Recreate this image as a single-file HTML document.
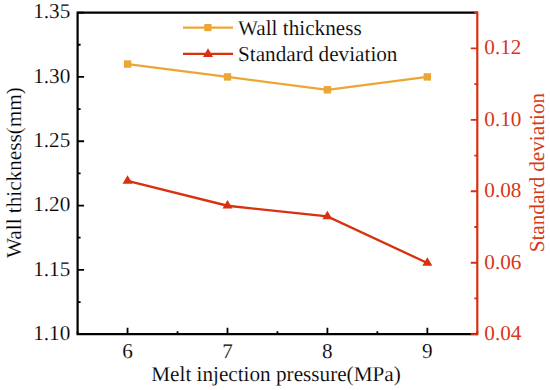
<!DOCTYPE html><html><head><meta charset="utf-8"><style>html,body{margin:0;padding:0;background:#fff;}svg{display:block;}text{stroke:#fff;stroke-width:0.15;text-rendering:geometricPrecision;}</style></head><body>
<svg width="550" height="390" viewBox="0 0 550 390" style='font-family:"Liberation Serif",serif' font-size="21.2">
<rect width="550" height="390" fill="#fff"/>
<polyline points="127.56,64.06 227.49,76.92 327.41,89.78 427.34,76.92" fill="none" stroke="#EBA636" stroke-width="2.3"/>
<rect x="123.86" y="60.36" width="7.4" height="7.4" fill="#EBA636"/>
<rect x="223.79" y="73.22" width="7.4" height="7.4" fill="#EBA636"/>
<rect x="323.71" y="86.08" width="7.4" height="7.4" fill="#EBA636"/>
<rect x="423.64" y="73.22" width="7.4" height="7.4" fill="#EBA636"/>
<polyline points="127.56,180.90 227.49,205.74 327.41,216.46 427.34,262.98" fill="none" stroke="#D9300F" stroke-width="2.3"/>
<polygon points="127.56,175.17 132.56,183.77 122.56,183.77" fill="#D9300F"/>
<polygon points="227.49,200.01 232.49,208.61 222.49,208.61" fill="#D9300F"/>
<polygon points="327.41,210.73 332.41,219.33 322.41,219.33" fill="#D9300F"/>
<polygon points="427.34,257.25 432.34,265.85 422.34,265.85" fill="#D9300F"/>
<path d="M77.6,12.6 H477.3 M77.6,11.6 V335.2 M76.6,334.2 H477.3" stroke="#000" stroke-width="2.2" fill="none"/>
<path d="M77.6,334.20 H84.10 M77.6,302.04 H80.60 M77.6,269.88 H84.10 M77.6,237.72 H80.60 M77.6,205.56 H84.10 M77.6,173.40 H80.60 M77.6,141.24 H84.10 M77.6,109.08 H80.60 M77.6,76.92 H84.10 M77.6,44.76 H80.60 M77.6,12.60 H84.10 M77.60,334.2 V331.20 M127.56,334.2 V327.70 M177.53,334.2 V331.20 M227.49,334.2 V327.70 M277.45,334.2 V331.20 M327.41,334.2 V327.70 M377.38,334.2 V331.20 M427.34,334.2 V327.70 M477.30,334.2 V331.20" stroke="#000" stroke-width="1.8" fill="none"/>
<path d="M477.3,11.6 V335.2" stroke="#D9300F" stroke-width="2.2" fill="none"/>
<path d="M477.3,334.20 H470.80 M477.3,298.47 H474.30 M477.3,262.73 H470.80 M477.3,227.00 H474.30 M477.3,191.27 H470.80 M477.3,155.53 H474.30 M477.3,119.80 H470.80 M477.3,84.07 H474.30 M477.3,48.33 H470.80 M477.3,12.60 H474.30" stroke="#D9300F" stroke-width="1.8" fill="none"/>
<text x="70.3" y="339.90" text-anchor="end">1.10</text>
<text x="70.3" y="275.58" text-anchor="end">1.15</text>
<text x="70.3" y="211.26" text-anchor="end">1.20</text>
<text x="70.3" y="146.94" text-anchor="end">1.25</text>
<text x="70.3" y="82.62" text-anchor="end">1.30</text>
<text x="70.3" y="18.30" text-anchor="end">1.35</text>
<text x="127.56" y="357.8" text-anchor="middle">6</text>
<text x="227.49" y="357.8" text-anchor="middle">7</text>
<text x="327.41" y="357.8" text-anchor="middle">8</text>
<text x="427.34" y="357.8" text-anchor="middle">9</text>
<text x="484.3" y="340.00" fill="#D63818" style="stroke:none">0.04</text>
<text x="484.3" y="268.53" fill="#D63818" style="stroke:none">0.06</text>
<text x="484.3" y="197.07" fill="#D63818" style="stroke:none">0.08</text>
<text x="484.3" y="125.60" fill="#D63818" style="stroke:none">0.10</text>
<text x="484.3" y="54.13" fill="#D63818" style="stroke:none">0.12</text>
<text x="276" y="381" text-anchor="middle">Melt injection pressure(MPa)</text>
<text transform="translate(21,172.6) rotate(-90)" text-anchor="middle">Wall thickness(mm)</text>
<text transform="translate(543.5,172.6) rotate(-90)" text-anchor="middle" fill="#D63818" style="stroke:none">Standard deviation</text>
<path d="M183,27.7 H233" stroke="#EBA636" stroke-width="2.3"/>
<rect x="204.30" y="24.00" width="7.2" height="7.2" fill="#EBA636"/>
<text x="238" y="34.6">Wall thickness</text>
<path d="M183,53.8 H233" stroke="#D9300F" stroke-width="2.3"/>
<polygon points="208.00,48.37 213.00,56.97 203.00,56.97" fill="#D9300F"/>
<text x="238" y="60.5">Standard deviation</text>
</svg></body></html>
